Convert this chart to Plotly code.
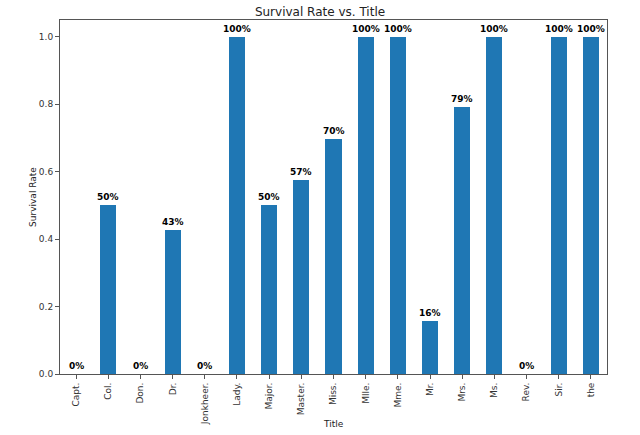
import plotly.graph_objects as go

titles = ["Capt.", "Col.", "Don.", "Dr.", "Jonkheer.", "Lady.", "Major.", "Master.",
          "Miss.", "Mlle.", "Mme.", "Mr.", "Mrs.", "Ms.", "Rev.", "Sir.", "the"]
survival = [0.0, 0.5, 0.0, 0.428571, 0.0, 1.0, 0.5, 0.575, 0.697802, 1.0, 1.0,
            0.156673, 0.792, 1.0, 0.0, 1.0, 1.0]
labels = [f"{round(v*100):.0f}%" for v in survival]

fig = go.Figure()
fig.add_trace(go.Bar(x=titles, y=survival, width=0.5, marker_color="#1f77b4",
                     marker_line_width=0))
for t, v, lab in zip(titles, survival, labels):
    fig.add_annotation(x=t, y=v, text=f"<b>{lab}</b>", showarrow=False,
                       yanchor="bottom", yshift=1,
                       font=dict(family="DejaVu Sans", size=9, color="black"))

fig.add_annotation(text="Title", xref="paper", yref="paper", x=0.5, y=-0.141,
                   xanchor="center", yanchor="middle", showarrow=False,
                   font=dict(family="DejaVu Sans", size=9, color="#222222"))

axis_common = dict(showline=True, linecolor="#555555", linewidth=1, mirror=True,
                   ticks="outside", ticklen=4, tickcolor="#555555", showgrid=False,
                   zeroline=False, automargin=False,
                   tickfont=dict(family="DejaVu Sans", size=9, color="#333333"))
fig.update_layout(
    width=640, height=435,
    margin=dict(l=60, r=33, t=20, b=61),
    plot_bgcolor="white", paper_bgcolor="white",
    title=dict(text="Survival Rate vs. Title", x=0.5, xanchor="center", y=0.972, yanchor="middle",
               font=dict(family="DejaVu Sans", size=12, color="#222222")),
    showlegend=False,
    bargap=0,
)
fig.update_xaxes(**axis_common, range=[-0.5, 16.5], tickangle=-90)
fig.update_yaxes(**axis_common, range=[0, 1.05], tickvals=[0, 0.2, 0.4, 0.6, 0.8, 1.0],
                 ticktext=["0.0", "0.2", "0.4", "0.6", "0.8", "1.0"],
                 title=dict(text="Survival Rate", font=dict(family="DejaVu Sans", size=9, color="#222222"), standoff=0))
fig.write_html("out.html", config={"displayModeBar": False},
               post_script="document.body.style.margin='0';")
